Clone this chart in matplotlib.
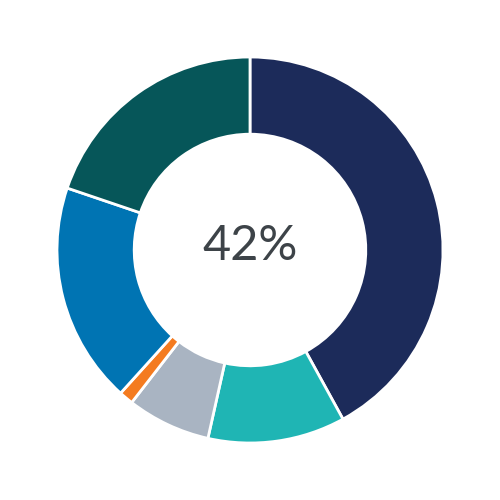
import matplotlib
matplotlib.use("Agg")
import matplotlib.pyplot as plt

# segment values (percent), clockwise from 12 o'clock
labels = ["Navy", "Teal", "Gray", "Orange", "Blue", "Green"]
values = [42, 11.5, 7.0, 1.2, 18.5, 19.8]
colors = ["#1c2b5a", "#1fb5b4", "#a9b4c2", "#f47b20", "#0074b3", "#065659"]
center_text = "42%"

fig = plt.figure(figsize=(5, 5), dpi=100)
ax = fig.add_axes([0, 0, 1, 1])

ax.pie(values, colors=colors, startangle=90, counterclock=False,
       radius=1.0,
       wedgeprops=dict(width=0.40, edgecolor="white", linewidth=2))

ax.text(0, 0.02, center_text, ha="center", va="center",
        fontsize=35, color="#3d4348", family=["Lato", "DejaVu Sans"],
        fontweight="normal")

lim = 250 / 193
ax.set_xlim(-lim, lim)
ax.set_ylim(-lim, lim)
ax.set_aspect("equal")
ax.axis("off")

fig.savefig("out.png", dpi=100, facecolor="white")
